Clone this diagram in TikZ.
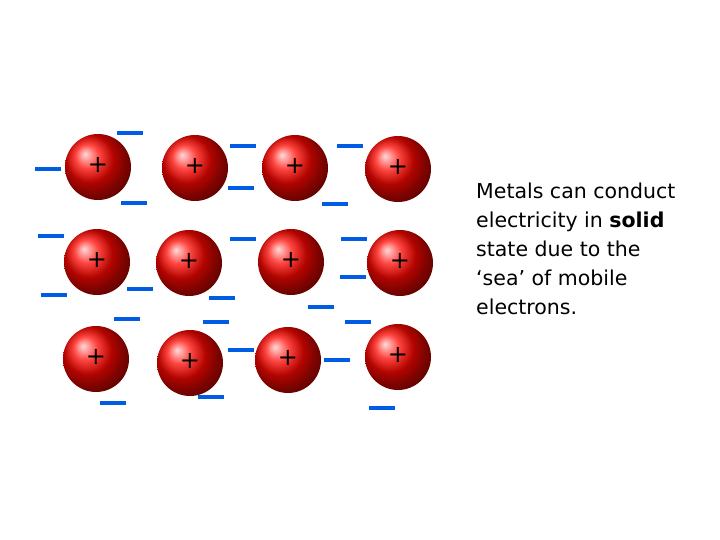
\documentclass[tikz,border=0pt]{standalone}
\usepackage{fontspec}
\setmainfont{DejaVu Sans}
\begin{document}
\begin{tikzpicture}[x=1pt,y=-1pt,
  ion/.style={circle,minimum size=66pt,inner sep=0pt,shading=ball,ball color=red!95!orange},
  elec/.style={fill=blue!60!cyan!90!black,minimum width=26pt,minimum height=4.5pt,inner sep=0pt},
  plus/.style={font=\fontsize{24}{24}\selectfont}]
\useasboundingbox (0,0) rectangle (720,540);
\foreach \n/\x/\y in {a/98/167,b/195/168,c/295/168,d/398/169,e/97/262,f/189/263,g/291/262,h/400/263,i/96/359,j/190/363,k/288/360,l/398/357}{
  \node[ion] (\n) at (\x,\y) {};
  \node[plus] (p\n) at (\x,\y-2) {+};
}
\foreach \x/\y [count=\i] in {130/133,48/169,134/203,243/146,241/188,350/146,335/204,51/236,54/295,140/289,243/239,222/298,354/239,353/277,321/307,127/319,216/322,241/350,337/360,358/322,113/403,211/397,382/408}{
  \node[elec] (m\i) at (\x,\y) {};
}
\node[anchor=north west,align=left,font=\fontsize{20.5}{29}\selectfont,inner sep=0pt] (t) at (476,183)
 {Metals can conduct\\electricity in \textbf{solid}\\state due to the\\‘sea’ of mobile\\electrons.};
\end{tikzpicture}
\end{document}
